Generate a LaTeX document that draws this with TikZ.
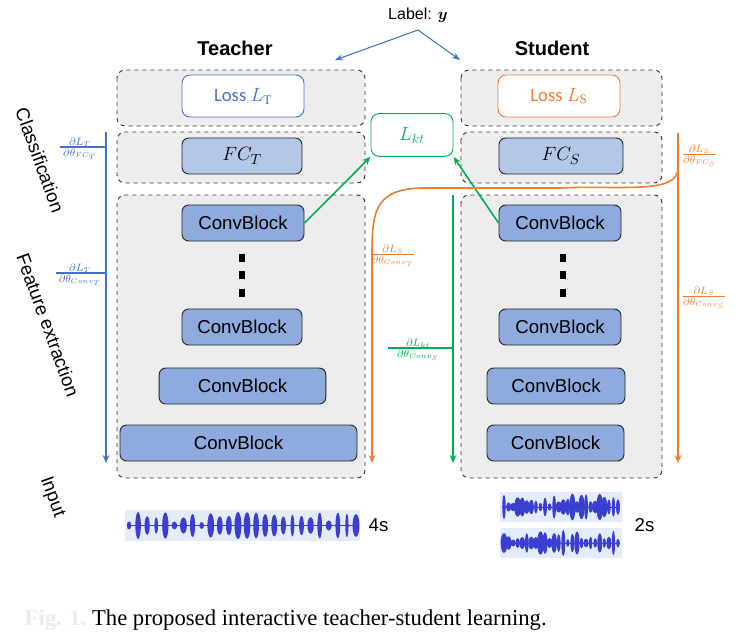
\documentclass[tikz,border=0pt]{standalone}
\usepackage{amsmath}
\usepackage{fontspec}
\setmainfont{Liberation Serif}
\setsansfont{Liberation Sans}
\newfontfamily\carlitofont{Carlito}
\usetikzlibrary{arrows.meta}
\definecolor{tblue}{HTML}{4472C4}
\definecolor{sorange}{HTML}{ED7D31}
\definecolor{kgreen}{HTML}{00B050}
\definecolor{fcfill}{HTML}{B4C7E7}
\definecolor{cvfill}{HTML}{8FAADC}
\definecolor{wave}{HTML}{3B3FD0}
\definecolor{wavebg}{HTML}{E4ECFB}
\tikzset{
 grp/.style={draw=black!80,dashed,fill=black!7,rounded corners=6pt,line width=0.7pt},
 fcbox/.style={draw=black!85,fill=fcfill,rounded corners=5pt,line width=0.7pt},
 cvbox/.style={draw=black!85,fill=cvfill,rounded corners=5pt,line width=0.7pt},
 lossbox/.style={fill=white,rounded corners=6pt,line width=0.7pt},
 lbl/.style={font=\sffamily\fontsize{14}{16}\selectfont},
 grad/.style={font=\fontsize{11}{13}\selectfont,inner sep=1pt},
 side/.style={font=\sffamily\fontsize{14}{16}\selectfont,rotate=-70},
 arr/.style={-{Stealth[length=6pt,width=5pt]},line width=1.2pt}
}
\begin{document}
\begin{tikzpicture}[x=0.75pt,y=-0.75pt]
\useasboundingbox (0,0) rectangle (750,637);
% label y
\node[font=\sffamily\fontsize{12}{14}\selectfont] (lab) at (418,15) {Label: $\boldsymbol{y}$};
\coordinate (lsplit) at (418,30);
\node[font=\sffamily\bfseries\fontsize{15}{17}\selectfont] (teach) at (235,48) {Teacher};
\node[font=\sffamily\bfseries\fontsize{15}{17}\selectfont] (stud) at (552,48) {Student};
% groups
\draw[grp] (117,70) rectangle (365,126);
\draw[grp] (117,132) rectangle (365,183);
\draw[grp] (117,195) rectangle (365,478);
\draw[grp] (461,70) rectangle (662,126);
\draw[grp] (461,132) rectangle (662,183);
\draw[grp] (461,195) rectangle (662,478);
% arrows from label
\draw[tblue,-{Stealth[length=6pt]},line width=0.8pt] (lsplit) -- (335,60);
\draw[tblue,-{Stealth[length=6pt]},line width=0.8pt] (lsplit) -- (460,60);
% teacher nodes
\node[lossbox,draw=tblue,minimum width=91.5pt,minimum height=31.5pt,text=tblue,font=\carlitofont\fontsize{14}{16}\selectfont] (lt) at (243,96) {Loss $L_{\mathrm{T}}$};
\node[fcbox,minimum width=90pt,minimum height=27pt,font=\fontsize{15}{17}\selectfont] (fct) at (242,156) {$FC_T$};
\node[cvbox,lbl,minimum width=91.5pt,minimum height=27pt] (ct1) at (243,223) {ConvBlock};
\node[cvbox,lbl,minimum width=90pt,minimum height=27pt] (ct2) at (242,327) {ConvBlock};
\node[cvbox,lbl,minimum width=125pt,minimum height=27pt] (ct3) at (242.5,386) {ConvBlock};
\node[cvbox,lbl,minimum width=177.75pt,minimum height=27pt] (ct4) at (238.5,443) {ConvBlock};
\foreach \yy in {258,275,293}{\fill (239,\yy-4) rectangle (245,\yy+4);}
% student nodes
\node[lossbox,draw=sorange,minimum width=91.5pt,minimum height=31.5pt,text=sorange,font=\carlitofont\fontsize{14}{16}\selectfont] (ls) at (559,96) {Loss $L_{\mathrm{S}}$};
\node[fcbox,minimum width=93pt,minimum height=27pt,font=\fontsize{15}{17}\selectfont] (fcs) at (561,156) {$FC_S$};
\node[cvbox,lbl,minimum width=91.5pt,minimum height=27pt] (cs1) at (560,223) {ConvBlock};
\node[cvbox,lbl,minimum width=91.5pt,minimum height=27pt] (cs2) at (560,327) {ConvBlock};
\node[cvbox,lbl,minimum width=103.5pt,minimum height=27pt] (cs3) at (556,386) {ConvBlock};
\node[cvbox,lbl,minimum width=102.75pt,minimum height=27pt] (cs4) at (555.5,443) {ConvBlock};
\foreach \yy in {258,275,293}{\fill (560,\yy-4) rectangle (566,\yy+4);}
% Lkt
\node[lossbox,draw=kgreen,minimum width=61.5pt,minimum height=32pt,text=kgreen,font=\fontsize{14}{16}\selectfont] (lkt) at (412,135) {$L_{kt}$};
\draw[kgreen,arr] (ct1.east) -- (lkt.south west);
\draw[kgreen,arr] (cs1.west) -- (lkt.south east);
% teacher gradient
\coordinate (tb0) at (106,132); \coordinate (tb1) at (106,463);
\draw[tblue,arr] (tb0) -- (tb1);
\node[grad,text=tblue] (g1) at (80,149) {$\frac{\partial L_T}{\partial \theta_{FC_T}}$};
\draw[tblue,line width=0.8pt] (g1.west |- 0,147) -- (106,147);
\node[grad,text=tblue] (g2) at (80,275) {$\frac{\partial L_T}{\partial \theta_{Conv_T}}$};
\draw[tblue,line width=0.8pt] (g2.west |- 0,273) -- (106,273);
% student gradient
\coordinate (sb0) at (678,133); \coordinate (sb1) at (678,463);
\draw[sorange,arr] (sb0) -- (sb1);
\coordinate (cb1) at (372,463);
\draw[sorange,arr] (678,168) .. controls (678,195) and (620,185) .. (560,188) -- (420,188) .. controls (372,190) and (372,215) .. (372,260) -- (cb1);
\node[grad,text=sorange,anchor=west] (g3) at (680,156) {$\frac{\partial L_S}{\partial \theta_{FC_S}}$};
\node[grad,text=sorange,anchor=west] (g4) at (680,298) {$\frac{\partial L_S}{\partial \theta_{Conv_S}}$};
\node[grad,text=sorange] (g5) at (393,256) {$\frac{\partial L_S}{\partial \theta_{Conv_T}}$};
\coordinate (kb0) at (453,195); \coordinate (kb1) at (453,463);
\draw[kgreen,arr] (kb0) -- (kb1);
\node[grad,text=kgreen] (g6) at (418,350) {$\frac{\partial L_{kt}}{\partial \theta_{Conv_S}}$};
\draw[kgreen,line width=0.8pt] (388,348) -- (453,348);
% side labels
\node[side] (cls) at (40,160) {Classification};
\node[side] (fe) at (48,325) {Feature extraction};
\node[side] (inp) at (52,497) {Input};
% waveforms
\newcommand{\wavestrip}[5]{%
 \fill[wavebg] (#1,#2) rectangle (#3,#4);
 \draw[wave,line width=0.5pt] (#1+2,{(#2+#4)/2}) -- (#3-2,{(#2+#4)/2});
 \pgfmathsetseed{#5}
 \foreach \k in {1,...,26}{
  \pgfmathsetmacro{\xx}{#1+4+(\k-1)*(#3-#1-8)/25}
  \pgfmathsetmacro{\hh}{(#4-#2)*(0.1+0.35*rnd)}
  \pgfmathsetmacro{\ww}{1.5+2*rnd}
  \fill[wave] (\xx,{(#2+#4)/2}) ellipse ({\ww*0.75pt} and {\hh*0.75pt});
 }}
\wavestrip{125}{510}{360}{541}{3}
\wavestrip{500}{492}{622}{522}{7}
\wavestrip{500}{528}{622}{558}{11}
\node[lbl,anchor=west] (s4) at (364,525) {4s};
\node[lbl,anchor=west] (s2) at (630,525) {2s};
% caption
\node[font=\fontsize{17}{19}\selectfont,anchor=west] (cap) at (20,620) {\textcolor{black!8}{\textbf{Fig. 1.}}\ The proposed interactive teacher-student learning.};
\end{tikzpicture}
\end{document}
